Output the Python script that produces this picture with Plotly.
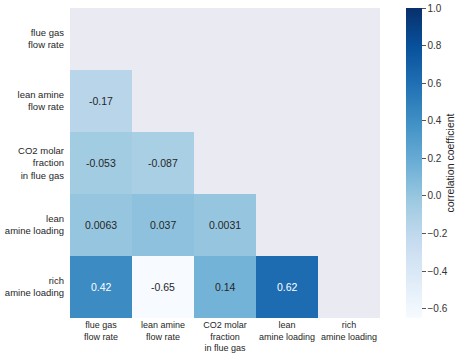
import plotly.graph_objects as go

labels = ["flue gas<br>flow rate", "lean amine<br>flow rate", "CO2 molar<br>fraction<br>in flue gas",
          "lean<br>amine loading", "rich<br>amine loading"]
# lower-triangle correlation values (row, col); upper triangle + diagonal masked
corr = [
    [None, None, None, None, None],
    [-0.17, None, None, None, None],
    [-0.053, -0.087, None, None, None],
    [0.0063, 0.037, 0.0031, None, None],
    [0.42, -0.65, 0.14, 0.62, None],
]
text_dark = ["-0.17", "-0.053", "-0.087", "0.0063", "0.037", "0.0031", "-0.65", "0.14"]

zmin, zmax = -0.65, 1.0
blues = ["#f7fbff", "#deebf7", "#c6dbef", "#9ecae1", "#6baed6", "#4292c6", "#2171b5", "#08519c", "#08306b"]
cscale = [[i / (len(blues) - 1), c] for i, c in enumerate(blues)]

fig = go.Figure(go.Heatmap(
    z=corr, x=labels, y=labels, zmin=zmin, zmax=zmax, colorscale=cscale,
    hoverongaps=False,
    colorbar=dict(
        thickness=16, len=1, lenmode="fraction", y=0.5, yanchor="middle",
        x=1.084, xanchor="left", xpad=0, ypad=0, outlinewidth=0,
        tick0=0, dtick=0.2, tickformat=".1f", ticks="outside", ticklen=4,
        tickcolor="#555", tickfont=dict(size=10, color="#333"),
        title=dict(text="correlation coefficient", side="right", font=dict(size=10.5, color="#262626")),
    ),
))

annotations = []
for i, row in enumerate(corr):
    for j, v in enumerate(row):
        if v is None:
            continue
        s = f"{v:.2g}"
        color = "#262626" if s in text_dark else "white"
        annotations.append(dict(x=labels[j], y=labels[i], text=s, showarrow=False,
                                font=dict(size=10.5, color=color)))

fig.update_layout(
    width=474, height=353,
    margin=dict(l=70, r=94, t=8, b=35),
    paper_bgcolor="white", plot_bgcolor="#EAEAF2",
    font=dict(family="Arial, Liberation Sans, sans-serif", size=9, color="#262626"),
    annotations=annotations,
)
fig.update_xaxes(showgrid=False, zeroline=False, ticks="", tickfont=dict(size=9), tickangle=0,
                 automargin=False, ticklabelstandoff=0)
fig.update_yaxes(showgrid=False, zeroline=False, ticks="", autorange="reversed", tickfont=dict(size=9.5),
                 automargin=False, ticklabelstandoff=5)
fig.write_html("out.html")
